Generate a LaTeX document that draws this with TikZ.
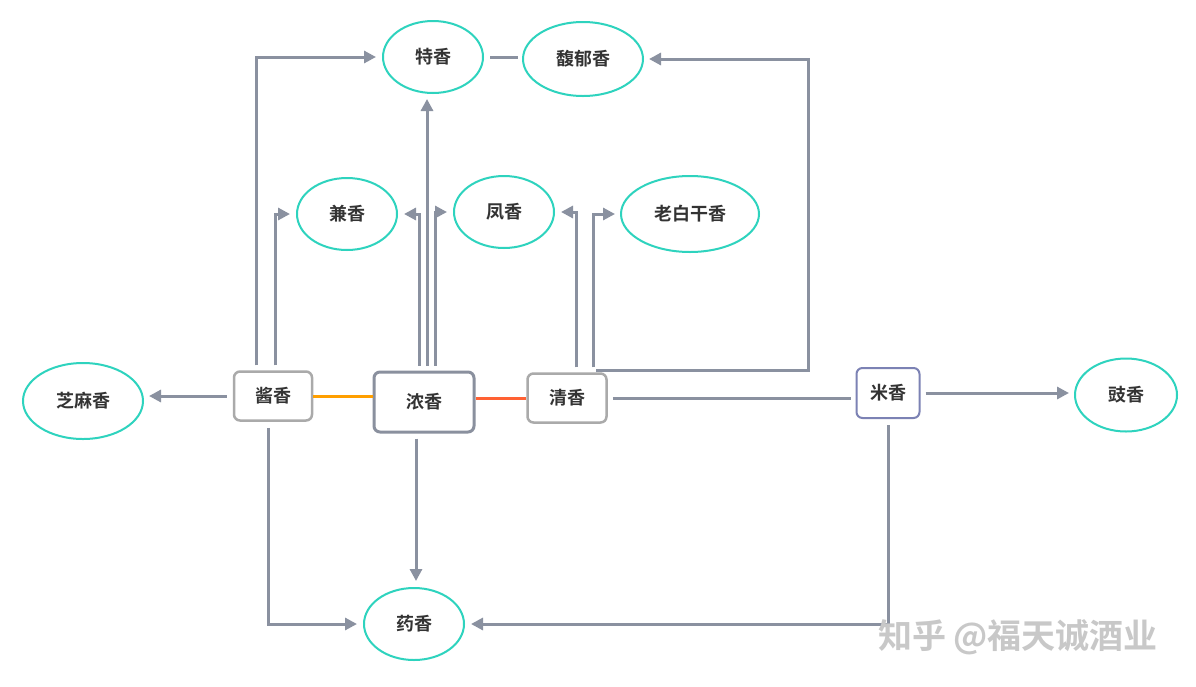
\documentclass[tikz,border=0pt]{standalone}
\usepackage{fontspec}
\setmainfont{Noto Sans CJK SC}[BoldFont={Noto Sans CJK SC Bold}]
\usetikzlibrary{shapes.geometric,arrows.meta}
\definecolor{linegray}{HTML}{8A91A0}
\definecolor{aqua}{HTML}{2ED3BE}
\definecolor{boxgray}{HTML}{AAAAAA}
\definecolor{nonggray}{HTML}{8A909E}
\definecolor{mipurple}{HTML}{7C82B4}
\definecolor{inkdark}{HTML}{333333}
\definecolor{wmgray}{HTML}{C8C8C8}
\tikzset{
  aroma/.style={ellipse, draw=aqua, line width=2pt, inner sep=0pt, fill=white,
    text=inkdark, font=\bfseries\fontsize{18}{18}\selectfont},
  base/.style={rectangle, rounded corners=6pt, draw=boxgray, line width=2.5pt, fill=white,
    text=inkdark, font=\bfseries\fontsize{18}{18}\selectfont},
  link/.style={draw=linegray, line width=3pt},
  arr/.style={link, -{Triangle[length=12pt,width=12pt]}},
}
\begin{document}
\begin{tikzpicture}[x=1pt,y=-1pt]
  \useasboundingbox[fill=white] (0,0) rectangle (1196,686);

  % bases
  \node[base, minimum width=78pt, minimum height=49pt] (jiang) at (273,396) {酱香};
  \node[base, draw=nonggray, line width=3pt, minimum width=100pt, minimum height=60pt] (nong) at (424,402) {浓香};
  \node[base, minimum width=79pt, minimum height=49pt] (qing) at (567,398) {清香};
  \node[base, draw=mipurple, line width=2pt, minimum width=63pt, minimum height=50pt] (mi) at (888,393) {米香};

  % aromas
  \node[aroma, minimum width=100pt, minimum height=72pt] (te) at (433,57) {特香};
  \node[aroma, minimum width=120pt, minimum height=74pt] (fuyu) at (583,59) {馥郁香};
  \node[aroma, minimum width=100pt, minimum height=72pt] (jian) at (347,214) {兼香};
  \node[aroma, minimum width=100pt, minimum height=72pt] (feng) at (504,212) {凤香};
  \node[aroma, minimum width=138pt, minimum height=76pt] (laobai) at (690,214) {老白干香};
  \node[aroma, minimum width=120pt, minimum height=76pt] (zhima) at (83,401) {芝麻香};
  \node[aroma, minimum width=102pt, minimum height=73pt] (chi) at (1126,395) {豉香};
  \node[aroma, minimum width=100pt, minimum height=72pt] (yao) at (414,624) {药香};

  % jiang
  \draw[arr, shorten <=6pt, shorten >=5pt] (jiang.west) -- (jiang.west -| zhima.east);
  \draw[arr, shorten <=5pt, shorten >=6pt] ([xshift=-17pt]jiang.north) |- (te.west);
  \draw[arr, shorten <=5pt, shorten >=6pt] ([xshift=2pt]jiang.north) |- (jian.west);
  \draw[arr, shorten <=6pt, shorten >=6pt] ([xshift=-5pt]jiang.south) |- (yao.west);
  \draw[link, draw=orange!75!yellow] (jiang.east) -- (jiang.east -| nong.west);

  % nong
  \draw[arr, shorten <=5pt, shorten >=5pt] ([xshift=3pt]nong.north) -- ([xshift=3pt]nong.north |- te.south);
  \draw[arr, shorten <=5pt, shorten >=6pt] ([xshift=-5pt]nong.north) |- (jian.east);
  \draw[arr, shorten <=5pt, shorten >=6pt] ([xshift=11pt]nong.north) |- (feng.west);
  \draw[arr, shorten <=5pt, shorten >=6pt] ([xshift=-8pt]nong.south) -- ([xshift=-8pt]nong.south |- yao.north);
  \draw[link, draw=red!55!orange!80] (qing.west -| nong.east) -- (qing.west);

  % qing
  \draw[arr, shorten <=5pt, shorten >=6pt] ([xshift=9pt]qing.north) |- (feng.east);
  \draw[arr, shorten <=5pt, shorten >=5pt] ([xshift=26pt]qing.north) |- (laobai.west);
  \coordinate (loop) at (808,370);
  \draw[arr, shorten >=5pt] (qing.north -| 597,0) |- (loop) |- (fuyu.east);
  \draw[link, shorten <=5pt, shorten >=5pt] (qing.east) -- (qing.east -| mi.west);

  % mi
  \draw[arr, shorten <=5pt, shorten >=5pt] (mi.east) -- (mi.east -| chi.west);
  \draw[arr, shorten <=6pt, shorten >=6pt] (mi.south) |- (yao.east);

  % te - fuyu
  \draw[link, shorten <=6pt, shorten >=4pt] (te.east) -- (te.east -| fuyu.west);

  \node[text=wmgray, font=\bfseries\fontsize{34}{34}\selectfont] (mark) at (1018,637) {知乎 @福天诚酒业};
\end{tikzpicture}
\end{document}
